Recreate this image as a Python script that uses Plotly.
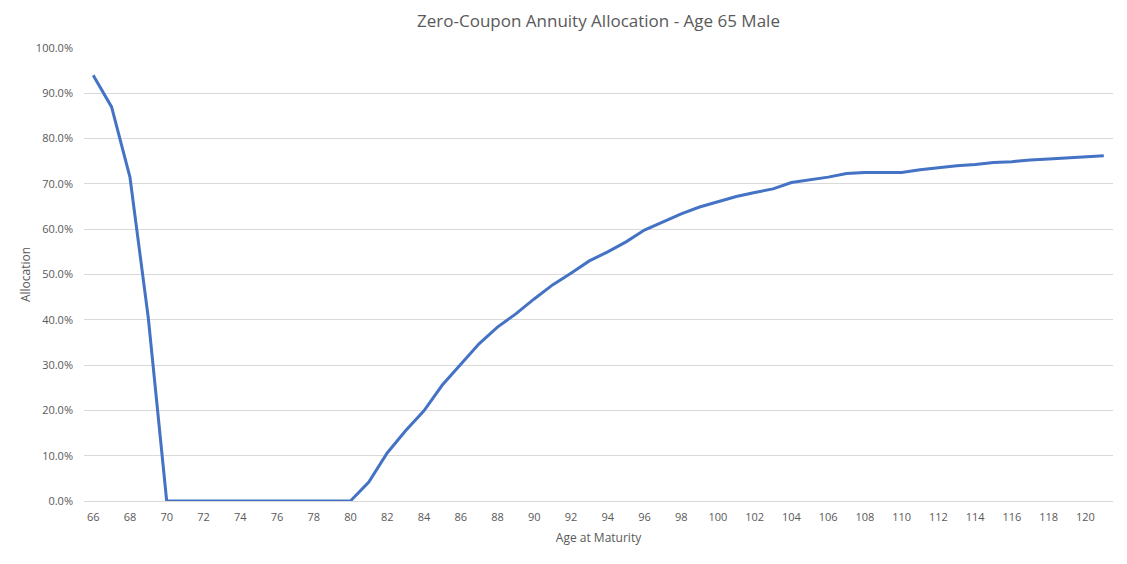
import plotly.graph_objects as go

ages = list(range(66, 122))
allocation = [
    94.0, 87.0, 71.5, 40.4, 0.0, 0.0, 0.0, 0.0, 0.0, 0.0,
    0.0, 0.0, 0.0, 0.0, 0.0, 4.2, 10.6, 15.5, 19.9, 25.6,
    30.2, 34.7, 38.4, 41.3, 44.6, 47.7, 50.3, 53.0, 55.0, 57.2,
    59.8, 61.6, 63.4, 64.9, 66.1, 67.2, 68.1, 68.9, 70.3, 70.9,
    71.5, 72.3, 72.5, 72.5, 72.5, 73.1, 73.6, 74.0, 74.3, 74.7,
    74.9, 75.3, 75.5, 75.7, 75.9, 76.2,
]
allocation = [v / 100 for v in allocation]
x_ticks = list(range(66, 121, 2))
y_ticks = [i / 10 for i in range(0, 11)]

grey = "#595959"
font_family = "Open Sans, Liberation Sans, sans-serif"

fig = go.Figure(
    go.Scatter(
        x=ages,
        y=allocation,
        mode="lines",
        line=dict(color="#4472C4", width=3),
        hoverinfo="x+y",
    )
)

fig.update_layout(
    width=1127,
    height=564,
    margin=dict(l=84, r=14, t=48, b=63),
    paper_bgcolor="white",
    plot_bgcolor="white",
    showlegend=False,
    font=dict(family=font_family, color=grey, size=11),
    title=dict(
        text="Zero-Coupon Annuity Allocation - Age 65 Male",
        xref="paper",
        x=0.5,
        xanchor="center",
        y=0.962,
        yanchor="middle",
        font=dict(size=17, color=grey, family=font_family),
    ),
)

fig.update_xaxes(
    range=[65.5, 121.5],
    tickvals=x_ticks,
    ticktext=[str(t) for t in x_ticks],
    showgrid=False,
    zeroline=False,
    showline=False,
    ticks="",
    ticklabelstandoff=8,
    tickfont=dict(size=11, color=grey),
    title=dict(text="Age at Maturity", font=dict(size=12, color=grey), standoff=10),
)

fig.update_yaxes(
    range=[0, 1.0],
    tickvals=y_ticks,
    tickformat=".1%",
    showgrid=True,
    gridcolor="#D9D9D9",
    gridwidth=1,
    zeroline=True,
    zerolinecolor="#D9D9D9",
    zerolinewidth=1,
    showline=False,
    ticks="",
    ticklabelstandoff=10,
    tickfont=dict(size=11, color=grey),
    title=dict(text="Allocation", font=dict(size=12, color=grey), standoff=2),
)

fig.write_html("out.html")
